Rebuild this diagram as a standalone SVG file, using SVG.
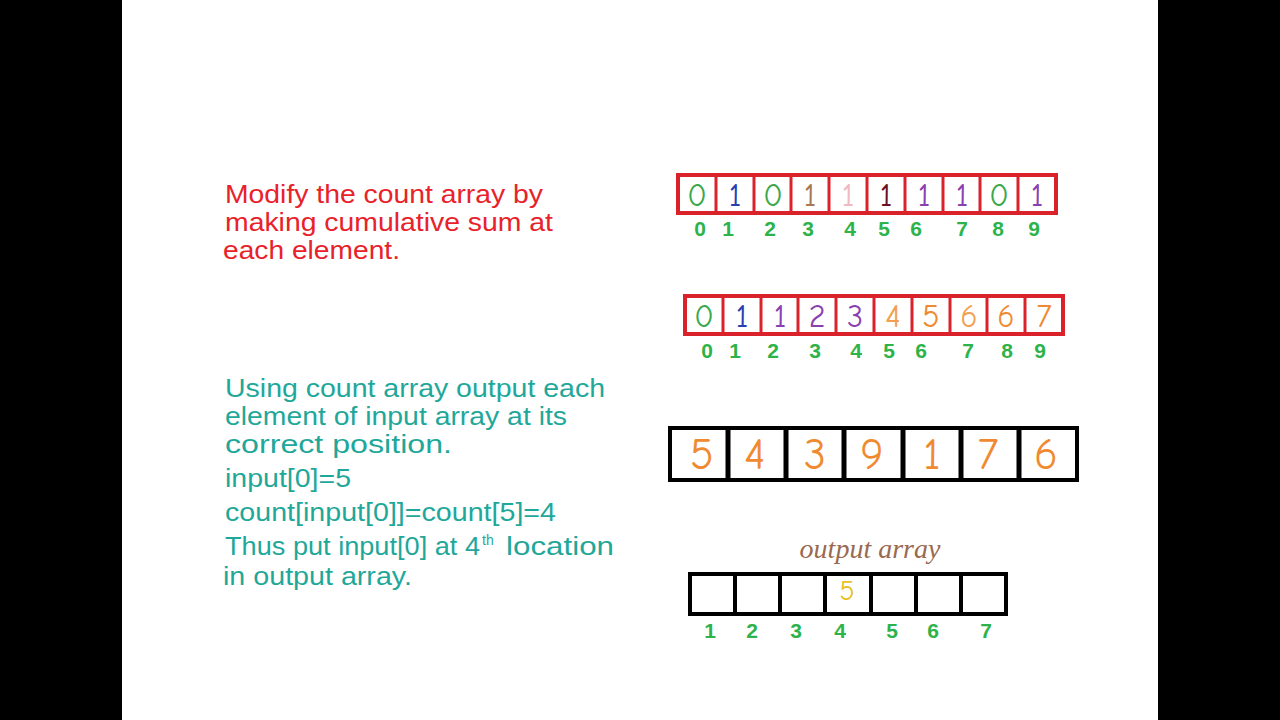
<svg xmlns="http://www.w3.org/2000/svg" width="1280" height="720" viewBox="0 0 1280 720">
<style>
.t{font-family:"Liberation Sans",Arial,sans-serif;font-size:25px}
.r{fill:#e8222a}.c{fill:#1fa89a}
.h{font-family:"Comic Neue","Liberation Sans",sans-serif;font-size:32px;text-anchor:middle}
.i{font-family:"Liberation Sans",sans-serif;font-size:21px;font-weight:bold;fill:#2db34a;text-anchor:middle}
.rc{fill:#fff;stroke:#d9222a;stroke-width:4}
.bc{fill:#fff;stroke:#000;stroke-width:4}
</style>
<rect width="1280" height="720" fill="#000"/>
<rect x="122" y="0" width="1036" height="720" fill="#fff"/>
<g id="text-red">
<text class="t r" x="225" y="203" textLength="318" lengthAdjust="spacingAndGlyphs">Modify the count array by</text>
<text class="t r" x="225" y="231" textLength="328" lengthAdjust="spacingAndGlyphs">making cumulative sum at</text>
<text class="t r" x="223" y="259" textLength="177" lengthAdjust="spacingAndGlyphs">each element.</text>
</g>
<g id="text-teal">
<text class="t c" x="225" y="397" textLength="380" lengthAdjust="spacingAndGlyphs">Using count array output each</text>
<text class="t c" x="225" y="425" textLength="342" lengthAdjust="spacingAndGlyphs">element of input array at its</text>
<text class="t c" x="225" y="453" textLength="227" lengthAdjust="spacingAndGlyphs">correct position.</text>
<text class="t c" x="225" y="487" textLength="126" lengthAdjust="spacingAndGlyphs">input[0]=5</text>
<text class="t c" x="225" y="521" textLength="331" lengthAdjust="spacingAndGlyphs">count[input[0]]=count[5]=4</text>
<text class="t c" y="555"><tspan x="225" textLength="255" lengthAdjust="spacingAndGlyphs">Thus put input[0] at 4</tspan><tspan x="482" y="545" style="font-size:14px">th</tspan><tspan x="506" y="555" textLength="108" lengthAdjust="spacingAndGlyphs">location</tspan></text>
<text class="t c" x="223" y="585" textLength="189" lengthAdjust="spacingAndGlyphs">in output array.</text>
</g>
<g id="count-array">
<rect class="rc" x="678" y="175" width="378" height="38"/>
<g stroke="#d9222a" stroke-width="3">
<line x1="716" y1="175" x2="716" y2="213"/><line x1="754" y1="175" x2="754" y2="213"/><line x1="791" y1="175" x2="791" y2="213"/><line x1="829" y1="175" x2="829" y2="213"/><line x1="867" y1="175" x2="867" y2="213"/><line x1="905" y1="175" x2="905" y2="213"/><line x1="943" y1="175" x2="943" y2="213"/><line x1="980" y1="175" x2="980" y2="213"/><line x1="1018" y1="175" x2="1018" y2="213"/>
</g>
<text class="h" y="206"><tspan x="697" fill="#3aa84a">0</tspan><tspan x="735" fill="#2a3fb0">1</tspan><tspan x="773" fill="#3aa84a">0</tspan><tspan x="810" fill="#a87850">1</tspan><tspan x="848" fill="#f0b8c0">1</tspan><tspan x="886" fill="#6a1020">1</tspan><tspan x="924" fill="#8a40b0">1</tspan><tspan x="962" fill="#8a40b0">1</tspan><tspan x="999" fill="#3aa84a">0</tspan><tspan x="1037" fill="#8a40b0">1</tspan></text>
<text class="i" y="236"><tspan x="700">0</tspan><tspan x="728">1</tspan><tspan x="770">2</tspan><tspan x="808">3</tspan><tspan x="850">4</tspan><tspan x="884">5</tspan><tspan x="916">6</tspan><tspan x="962">7</tspan><tspan x="998">8</tspan><tspan x="1034">9</tspan></text>
</g>
<g id="cumulative-array">
<rect class="rc" x="685" y="296" width="378" height="38"/>
<g stroke="#d9222a" stroke-width="3">
<line x1="723" y1="296" x2="723" y2="334"/><line x1="761" y1="296" x2="761" y2="334"/><line x1="798" y1="296" x2="798" y2="334"/><line x1="836" y1="296" x2="836" y2="334"/><line x1="874" y1="296" x2="874" y2="334"/><line x1="912" y1="296" x2="912" y2="334"/><line x1="950" y1="296" x2="950" y2="334"/><line x1="987" y1="296" x2="987" y2="334"/><line x1="1025" y1="296" x2="1025" y2="334"/>
</g>
<text class="h" y="327"><tspan x="704" fill="#3aa84a">0</tspan><tspan x="742" fill="#2a3fb0">1</tspan><tspan x="780" fill="#8a40b0">1</tspan><tspan x="817" fill="#8a40b0">2</tspan><tspan x="855" fill="#8a40b0">3</tspan><tspan x="893" fill="#f0a050">4</tspan><tspan x="931" fill="#f08a30">5</tspan><tspan x="969" fill="#f0a050">6</tspan><tspan x="1006" fill="#f08a30">6</tspan><tspan x="1044" fill="#f08a30">7</tspan></text>
<text class="i" y="358"><tspan x="707">0</tspan><tspan x="735">1</tspan><tspan x="773">2</tspan><tspan x="815">3</tspan><tspan x="856">4</tspan><tspan x="889">5</tspan><tspan x="921">6</tspan><tspan x="968">7</tspan><tspan x="1007">8</tspan><tspan x="1040">9</tspan></text>
</g>
<g id="input-array">
<rect class="bc" x="670" y="428" width="407" height="52" stroke-width="5"/>
<g stroke="#000" stroke-width="5">
<line x1="728" y1="428" x2="728" y2="480"/><line x1="786" y1="428" x2="786" y2="480"/><line x1="844" y1="428" x2="844" y2="480"/><line x1="903" y1="428" x2="903" y2="480"/><line x1="961" y1="428" x2="961" y2="480"/><line x1="1019" y1="428" x2="1019" y2="480"/>
</g>
<text class="h" y="469" style="font-size:44px" fill="#f08a30"><tspan x="702">5</tspan><tspan x="755">4</tspan><tspan x="815">3</tspan><tspan x="872">9</tspan><tspan x="932">1</tspan><tspan x="988">7</tspan><tspan x="1046">6</tspan></text>
</g>
<g id="output-array">
<text x="870" y="558" font-family="Liberation Serif,serif" font-style="italic" font-size="28" fill="#9a6a50" text-anchor="middle">output array</text>
<rect class="bc" x="690" y="574" width="316" height="40"/>
<g stroke="#000" stroke-width="4">
<line x1="735" y1="574" x2="735" y2="614"/><line x1="780" y1="574" x2="780" y2="614"/><line x1="825" y1="574" x2="825" y2="614"/><line x1="871" y1="574" x2="871" y2="614"/><line x1="916" y1="574" x2="916" y2="614"/><line x1="961" y1="574" x2="961" y2="614"/>
</g>
<text class="h" x="847" y="600" fill="#e8c020" style="font-size:28px">5</text>
<text class="i" y="638" fill="#4ec040"><tspan x="710">1</tspan><tspan x="752">2</tspan><tspan x="796">3</tspan><tspan x="840">4</tspan><tspan x="892">5</tspan><tspan x="933">6</tspan><tspan x="986">7</tspan></text>
</g>
</svg>
